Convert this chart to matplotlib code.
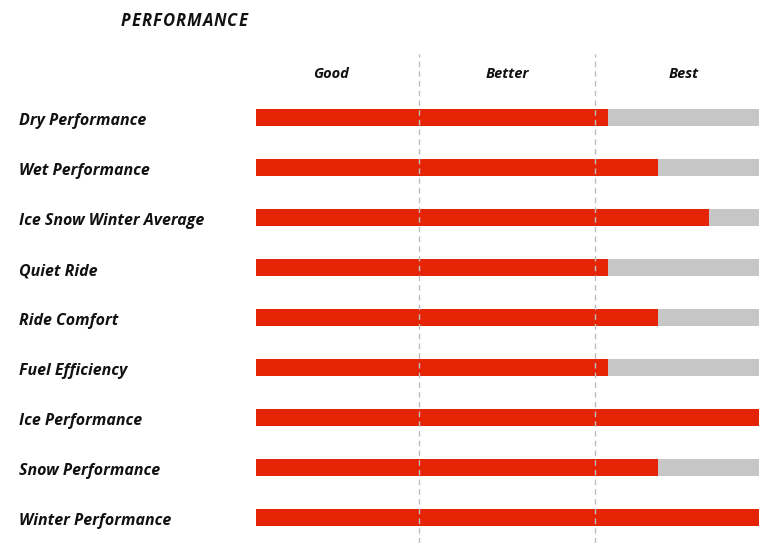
import matplotlib.pyplot as plt
from matplotlib.transforms import blended_transform_factory

categories = ["Dry Performance", "Wet Performance", "Ice Snow Winter Average",
              "Quiet Ride", "Ride Comfort", "Fuel Efficiency",
              "Ice Performance", "Snow Performance", "Winter Performance"]
scores = [7, 8, 9, 7, 8, 7, 10, 8, 10]
max_score = 10
levels = ["Good", "Better", "Best"]
level_pos = [1.5, 5.0, 8.5]
dividers = [3.25, 6.73]
title = "PERFORMANCE"

RED = "#E42405"
GREY = "#C6C6C6"
FONT = "Open Sans"
style = dict(family=FONT, weight="bold", style="italic", color="#111111")

W, H = 782, 553
fig = plt.figure(figsize=(W / 100, H / 100), dpi=100)
# axes spans the bar area: x 256..759 px, y 54..543 px
ax = fig.add_axes([256 / W, 1 - 543 / H, 503 / W, (543 - 54) / H])
ax.set_xlim(0, max_score)
ax.set_ylim(425.5 / 50, -63.5 / 50)
ax.axis("off")

rows = list(range(len(categories)))
ax.barh(rows, [max_score] * len(rows), height=0.34, color=GREY, zorder=1)
ax.barh(rows, scores, height=0.34, color=RED, zorder=2)

for d in dividers:
    ax.axvline(d, color="#BDBDBD", lw=1, ls=(0, (4, 3)), zorder=3)

for x, lab in zip(level_pos, levels):
    ax.text(x, -0.79, lab, ha="center", va="baseline", fontsize=10.5, **style)

tr = blended_transform_factory(fig.transFigure, ax.transData)
for r, name in zip(rows, categories):
    ax.text(19 / W, r + 0.15, name, transform=tr, ha="left", va="baseline",
            fontsize=11.5, **style)

# letter-spaced title, one glyph at a time
renderer = fig.canvas.get_renderer()
x = 121
for ch in title:
    t = fig.text(x / W, 1 - 26 / H, ch, ha="left", va="baseline",
                 fontsize=12, **style)
    x += t.get_window_extent(renderer).width + 1.0

fig.savefig("out.png", dpi=100)
